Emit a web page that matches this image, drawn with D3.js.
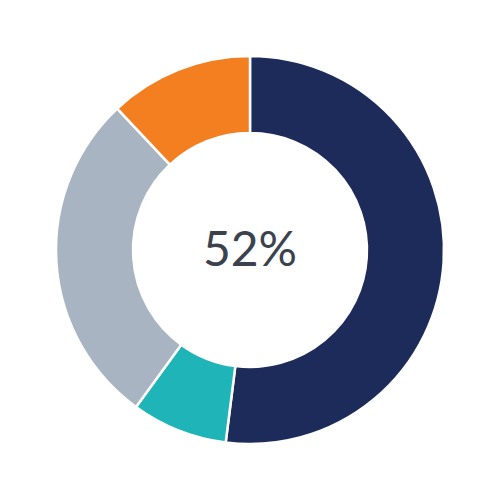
<!DOCTYPE html>
<html>
<head>
<meta charset="utf-8">
<script src="https://cdn.jsdelivr.net/npm/d3@7"></script>
<style>
  html, body { margin: 0; padding: 0; background: #ffffff; }
  #chart { width: 500px; height: 500px; }
</style>
</head>
<body>
<div id="chart"></div>
<script>
// ==================== données ====================//
const categories = ["A", "B", "C", "D"];
const values = [52, 8, 28, 12];
const colors = ["#1c2b5a", "#1fb5b8", "#a9b4c3", "#f37f20"];
const centerLabel = "52%";

// ==================== donut ====================//
const width = 500;
const height = 500;

const svg = d3.select("#chart")
    .append("svg")
    .attr("width", width)
    .attr("height", height);

const g = svg.append("g")
    .attr("transform", `translate(${width / 2}, ${height / 2})`);

const pie = d3.pie()
    .sort(null)
    .value(d => d.value);

const arc = d3.arc()
    .innerRadius(117)
    .outerRadius(194);

const data = categories.map((c, i) => ({ name: c, value: values[i], color: colors[i] }));

g.selectAll("path")
    .data(pie(data))
    .enter()
    .append("path")
    .attr("d", arc)
    .attr("fill", d => d.data.color)
    .attr("stroke", "#ffffff")
    .attr("stroke-width", 2.5);

// texte central
g.append("text")
    .attr("text-anchor", "middle")
    .attr("y", 16)
    .attr("font-family", "Lato, sans-serif")
    .attr("font-size", 48)
    .attr("fill", "#3b424d")
    .text(centerLabel);
</script>
</body>
</html>
